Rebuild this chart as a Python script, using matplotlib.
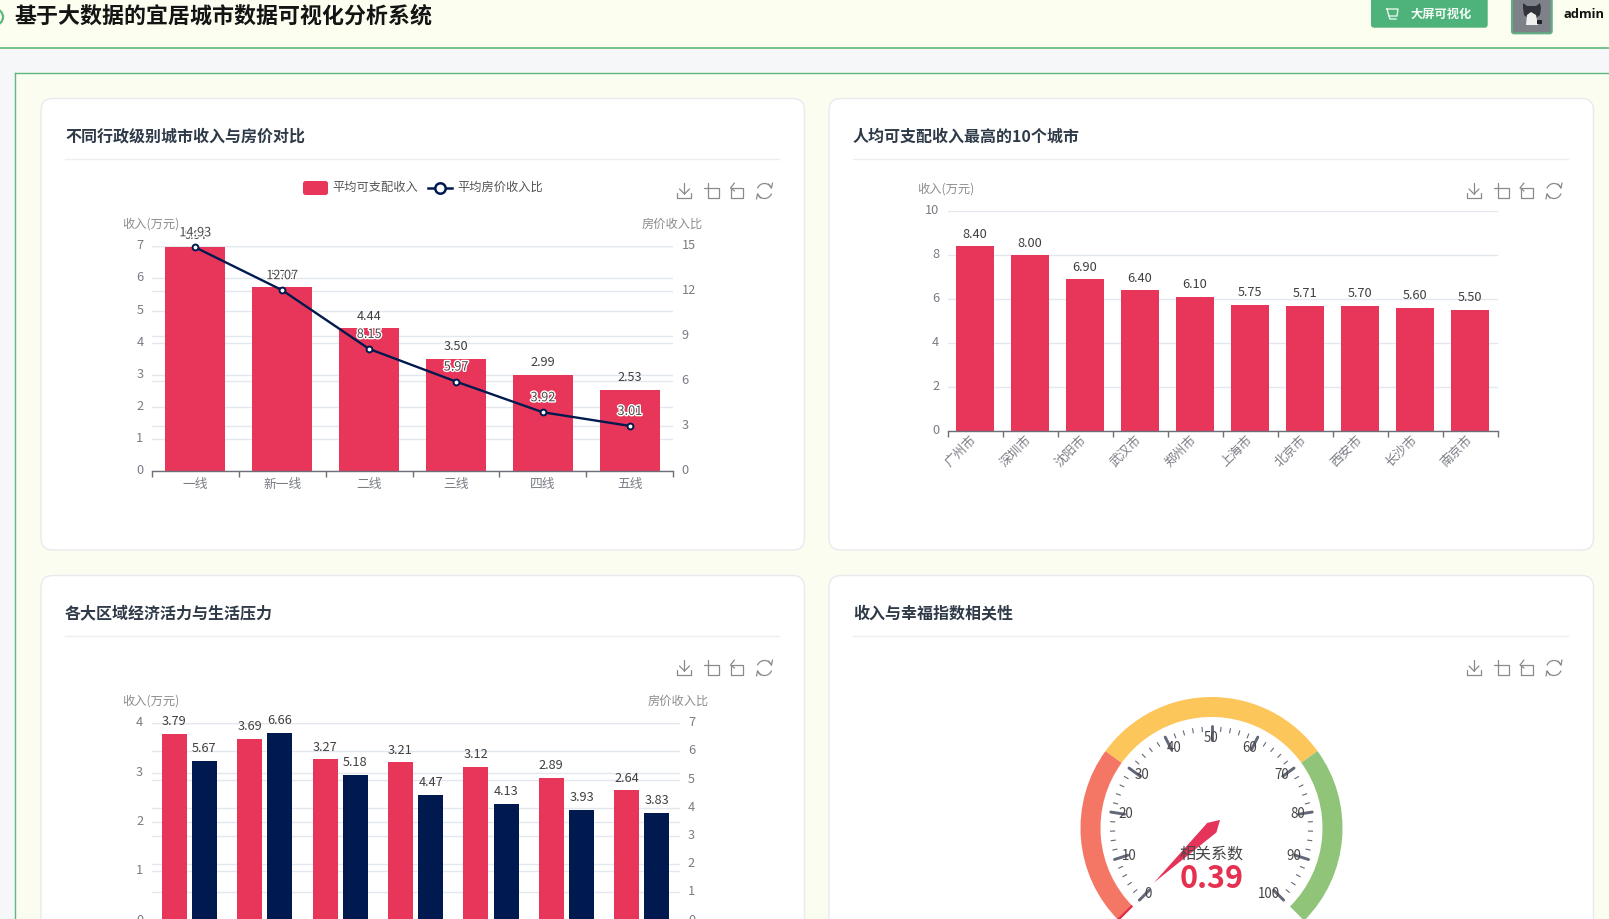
import numpy as np
import matplotlib
matplotlib.use("Agg")
import matplotlib.pyplot as plt
import matplotlib.patheffects as pe
from matplotlib.patches import FancyBboxPatch, Rectangle, Wedge, Polygon, Arc, Circle
from matplotlib.transforms import ScaledTranslation

plt.rcParams['font.family'] = ['Noto Sans CJK SC', 'DejaVu Sans']

# ---- data ----
page_title = "基于大数据的宜居城市数据可视化分析系统"
card_titles = ["不同行政级别城市收入与房价对比", "人均可支配收入最高的10个城市",
               "各大区域经济活力与生活压力", "收入与幸福指数相关性"]
tier_names = ["一线", "新一线", "二线", "三线", "四线", "五线"]
tier_income = [6.97, 5.72, 4.44, 3.50, 2.99, 2.53]
tier_ratio = [14.93, 12.07, 8.15, 5.97, 3.92, 3.01]
city_names = ["广州市", "深圳市", "沈阳市", "武汉市", "郑州市", "上海市", "北京市", "西安市", "长沙市", "南京市"]
city_income = [8.40, 8.00, 6.90, 6.40, 6.10, 5.75, 5.71, 5.70, 5.60, 5.50]
region_income = [3.79, 3.69, 3.27, 3.21, 3.12, 2.89, 2.64]
region_ratio = [5.67, 6.66, 5.18, 4.47, 4.13, 3.93, 3.83]
gauge_value = 0.39
gauge_stops = [0.0, 0.3, 0.7, 1.0]
gauge_labels = [0, 10, 20, 30, 40, 50, 60, 70, 80, 90, 100]

# ---- style ----
W, H = 1609, 919
RED = '#E8365A'
NAVY = '#001A50'
GREEN = '#5FB87C'
GRID = '#E3E7EE'
AXC = '#6E7079'
TICKC = '#7A7C84'
LAB = '#3F3F3F'
FS = 9.2
FS_NAME = 8.8
PX = 0.72

fig = plt.figure(figsize=(W / 100, H / 100), dpi=100, facecolor='#FBFDF1')
bg = fig.add_axes([0, 0, 1, 1], zorder=0)
bg.set_xlim(0, W)
bg.set_ylim(H, 0)
bg.axis('off')


def rect(x0, y0, x1, y1, c, **k):
    bg.add_patch(Rectangle((x0, y0), x1 - x0, y1 - y0, fc=c, ec='none', **k))


def shift(label, dx_px, dy_px):
    label.set_transform(label.get_transform() + ScaledTranslation(dx_px / 100, dy_px / 100, fig.dpi_scale_trans))


# page frame
rect(0, 0, W, 48, '#FCFEEF')
rect(0, 48, W, 73, '#F5F7F8')
rect(0, 48, 15, H, '#F5F7F8')
bg.plot([0, W], [48, 48], color=GREEN, lw=1.2)
bg.plot([15.5, W], [73, 73], color=GREEN, lw=1.0)
bg.plot([15.5, 15.5], [73, H], color=GREEN, lw=1.0)
bg.add_patch(Circle((-5, 17), 8, fc='none', ec=GREEN, lw=1.6))
bg.text(14.5, 16.5, page_title, fontsize=15.8, fontweight='bold', color='#141414', va='center', ha='left')

# header button
bg.add_patch(FancyBboxPatch((1371, -8), 116.7, 35.7, boxstyle='round,pad=0,rounding_size=3', fc='#4DB37A', ec='none'))
bg.text(1441.7, 14, "大屏可视化", fontsize=8.8, fontweight='bold', color='#F4FBF6', va='center', ha='center')
bg.plot([1387, 1398, 1397, 1389, 1387], [9, 9, 16, 16, 9], color='#E6F5EC', lw=1)
bg.plot([1389, 1390, 1396], [16, 19, 19], color='#E6F5EC', lw=1)

# avatar
bg.add_patch(FancyBboxPatch((1512, -6), 39.7, 39.3, boxstyle='round,pad=0,rounding_size=2', fc='#7F8189', ec='#5FAE84', lw=1.5))
bg.add_patch(Polygon([(1523, 8), (1523, 3), (1527, 6), (1536, 6), (1540, 3), (1541, 8), (1540, 15), (1536, 18),
                      (1528, 18), (1524, 15)], fc='#30343A', ec='none'))
bg.add_patch(Polygon([(1527, 15), (1531, 12), (1536, 15), (1538, 25), (1526, 25)], fc='#F0F0EE', ec='none'))
bg.add_patch(Rectangle((1537, 20), 5, 4, fc='#222428', ec='none'))
bg.text(1564, 14, "admin", fontsize=9.3, fontweight='bold', color='#111111', va='center', ha='left', family='Open Sans')

# cards
cards = [(41, 98.5, 804.5, 550), (829, 98.5, 1593.5, 550), (41, 575.5, 804.5, 960), (829, 575.5, 1593.5, 960)]
title_y = [136.5, 136.5, 613.5, 613.5]
div_y = [159.3, 159.3, 636, 636]
for (x0, y0, x1, y1), t, ty, dy in zip(cards, card_titles, title_y, div_y):
    bg.add_patch(FancyBboxPatch((x0, y0), x1 - x0, y1 - y0, boxstyle='round,pad=0,rounding_size=12',
                                fc='#FFFFFF', ec='#E8EAEE', lw=1))
    bg.text(x0 + 24, ty, t, fontsize=11.5, fontweight='bold', color='#2F3A48', va='center', ha='left')
    bg.plot([x0 + 24.5, x1 - 25.5], [dy, dy], color='#EBEEF3', lw=1)


def toolbox(cx0, cy):
    c = '#8A8A8A'
    kw = dict(color=c, lw=0.9, solid_capstyle='round')
    x = cx0
    bg.plot([x, x], [cy - 8, cy + 3], **kw)
    bg.plot([x - 5, x, x + 5], [cy - 2, cy + 3, cy - 2], **kw)
    bg.plot([x - 7, x - 7, x + 7, x + 7], [cy + 2, cy + 7, cy + 7, cy + 2], **kw)
    x = cx0 + 27.7
    bg.plot([x - 4, x - 4, x + 7, x + 7, x - 4], [cy - 3, cy + 7, cy + 7, cy - 3, cy - 3], **kw)
    bg.plot([x - 4, x - 4], [cy - 8, cy - 3], **kw)
    bg.plot([x - 8, x - 4], [cy - 3, cy - 3], **kw)
    x = cx0 + 53
    bg.plot([x - 6, x - 6, x + 6, x + 6, x - 6], [cy - 2, cy + 7, cy + 7, cy - 3, cy - 3], **kw)
    bg.plot([x - 3, x - 7, x - 3], [cy - 8, cy - 3, cy + 0], **kw)
    x = cx0 + 80
    bg.add_patch(Arc((x, cy), 15, 15, theta1=200, theta2=340, color=c, lw=0.9))
    bg.add_patch(Arc((x, cy), 15, 15, theta1=20, theta2=160, color=c, lw=0.9))
    bg.plot([x + 4, x + 7, x + 8], [cy - 7, cy - 3, cy - 8], **kw)
    bg.plot([x - 4, x - 7, x - 8], [cy + 7, cy + 3, cy + 8], **kw)


toolbox(684.5, 191)
toolbox(1474, 191)
toolbox(684.5, 668)
toolbox(1474, 668)

# legend of chart 1
bg.add_patch(FancyBboxPatch((303, 181), 25, 14, boxstyle='round,pad=0,rounding_size=2.5', fc=RED, ec='none'))
bg.text(332.5, 187.5, "平均可支配收入", fontsize=FS_NAME, color='#555555', va='center', ha='left')
bg.plot([428, 452.5], [188, 188], color=NAVY, lw=1.8)
bg.plot([440], [188], marker='o', ms=7.5, mfc='white', mec=NAVY, mew=1.8)
bg.text(457.6, 187.5, "平均房价收入比", fontsize=FS_NAME, color='#555555', va='center', ha='left')

# axis names
for x, y, s in [(151, 224, "收入(万元)"), (672, 224, "房价收入比"), (946, 189.5, "收入(万元)"),
                (151, 701, "收入(万元)"), (678, 701, "房价收入比")]:
    bg.text(x, y, s, fontsize=FS_NAME, color='#8C8C8C', va='center', ha='center')


def place(x0, x1, ytop, ybot, z):
    return fig.add_axes([x0 / W, 1 - ybot / H, (x1 - x0) / W, (ybot - ytop) / H], zorder=z, facecolor='none')


def clean(ax):
    for s in ax.spines.values():
        s.set_visible(False)
    ax.tick_params(axis='y', length=0, labelsize=FS, labelcolor=TICKC, pad=6)
    ax.set_axisbelow(True)


def lift_y_labels(ax):
    for lab in ax.get_yticklabels():
        shift(lab, 0, 2)


def cat_axis(ax, names, n, rotation=0):
    ax.set_xlim(-0.5, n - 0.5)
    ax.spines['bottom'].set_visible(True)
    ax.spines['bottom'].set_color(AXC)
    ax.spines['bottom'].set_linewidth(1)
    ax.set_xticks(np.arange(n + 1) - 0.5)
    ax.set_xticklabels([])
    ax.tick_params(axis='x', which='major', length=4, width=1, color=AXC)
    if names is not None:
        ax.set_xticks(np.arange(n), minor=True)
        if rotation:
            ax.set_xticklabels(names, minor=True, rotation=rotation, ha='right', va='top', rotation_mode='anchor')
        else:
            ax.set_xticklabels(names, minor=True)
        ax.tick_params(axis='x', which='minor', length=0, labelsize=FS, labelcolor=TICKC, pad=5)
        if rotation:
            for lab in ax.get_xticklabels(minor=True):
                shift(lab, -5, 5)


def bar_labels(ax, xs, vals, off=12.2):
    for x, v in zip(xs, vals):
        ax.annotate(f"{v:.2f}", (x, v), xytext=(0, off * PX), textcoords='offset points',
                    ha='center', va='center', fontsize=FS, color=LAB, annotation_clip=False)


def dual_axes(x0, x1, ytop, ybot, lmax, rmax, rstep, n, names):
    g = place(x0, x1, ytop, ybot, 1)
    clean(g)
    g.set_xlim(-0.5, n - 0.5)
    g.set_ylim(0, rmax)
    g.set_yticks(np.arange(0, rmax + 0.01, rstep))
    g.grid(axis='y', color=GRID, lw=1)
    g.set_yticklabels([])
    g.set_xticks([])
    a = place(x0, x1, ytop, ybot, 2)
    clean(a)
    a.set_ylim(0, lmax)
    a.set_yticks(np.arange(0, lmax + 0.01, 1))
    a.grid(axis='y', color=GRID, lw=1)
    cat_axis(a, names, n)
    r = place(x0, x1, ytop, ybot, 3)
    clean(r)
    r.set_xlim(-0.5, n - 0.5)
    r.set_ylim(0, rmax)
    r.set_xticks([])
    r.yaxis.tick_right()
    r.set_yticks(np.arange(0, rmax + 0.01, rstep))
    lift_y_labels(a)
    lift_y_labels(r)
    return a, r


# chart 1
a1, r1 = dual_axes(151.8, 673.3, 246.3, 471, 7, 15, 3, len(tier_names), tier_names)
x1 = np.arange(len(tier_names))
a1.bar(x1, tier_income, width=60 / 87.6, color=RED)
bar_labels(a1, x1, tier_income)
r1.plot(x1, tier_ratio, color=NAVY, lw=1.7, marker='o', ms=4.2, mfc='white', mec=NAVY, mew=1.4, clip_on=False)
for x, v in zip(x1, tier_ratio):
    r1.annotate(f"{v:.2f}", (x, v), xytext=(0, 14.5 * PX), textcoords='offset points', ha='center', va='center',
                fontsize=FS, color='#4A4A4A', annotation_clip=False,
                path_effects=[pe.withStroke(linewidth=2, foreground='white')])

# chart 2
a2 = place(947.5, 1497.7, 211.3, 431, 2)
clean(a2)
a2.set_ylim(0, 10)
a2.set_yticks(np.arange(0, 11, 2))
a2.grid(axis='y', color=GRID, lw=1)
cat_axis(a2, city_names, len(city_names), rotation=45)
lift_y_labels(a2)
x2 = np.arange(len(city_names))
a2.bar(x2, city_income, width=38 / 55, color=RED)
bar_labels(a2, x2, city_income)

# chart 3
a3, r3 = dual_axes(151.5, 679.6, 723.3, 920.5, 4, 7, 1, len(region_income), None)
x3 = np.arange(len(region_income))
a3.bar(x3 - 0.2, region_income, width=25 / 75.4, color=RED)
bar_labels(a3, x3 - 0.2, region_income)
r3.bar(x3 + 0.2, region_ratio, width=25 / 75.4, color=NAVY)
bar_labels(r3, x3 + 0.2, region_ratio)

# chart 4: gauge
CX, CY = 1211.5, 828
g = fig.add_axes([0, 0, 1, 1], zorder=4, facecolor='none')
g.set_xlim(-CX, W - CX)
g.set_ylim(-(H - CY), CY)
g.axis('off')


def ang(v):
    return 225 - 270 * v


for lo, hi, c in zip(gauge_stops[:-1], gauge_stops[1:], ['#F47766', '#FDC65A', '#90C479']):
    g.add_patch(Wedge((0, 0), 131, ang(hi), ang(lo), width=20, fc=c, ec='none'))
g.add_patch(Wedge((0, 0), 131, ang(0.004), ang(0), width=20, fc='#E0304A', ec='none'))

TC = '#63677A'
for i in range(51):
    t = np.deg2rad(ang(i / 50))
    c_, s_ = np.cos(t), np.sin(t)
    if i % 5 == 0:
        g.plot([88 * c_, 102 * c_], [88 * s_, 102 * s_], color=TC, lw=2.1, solid_capstyle='round')
    else:
        g.plot([97 * c_, 101 * c_], [97 * s_, 101 * s_], color=TC, lw=0.8)
for lab in gauge_labels:
    t = np.deg2rad(ang(lab / 100))
    if lab == 100:
        dx, dy = -6, -2
    elif lab == 0:
        dx, dy = 0, -2
    elif lab < 50:
        dx, dy = 3, 0
    elif lab > 50:
        dx, dy = -3, 0
    else:
        dx, dy = 0, 0
    g.text(90 * np.cos(t) + dx, 90 * np.sin(t) + dy, str(lab), fontsize=9.6, color='#464646', ha='center', va='center')

# pointer: a fixed shape, turned to the angle
needle_angle = np.deg2rad(43.5)
u = np.array([np.cos(needle_angle), np.sin(needle_angle)])
n = np.array([-u[1], u[0]])
needle = [11.7 * u, 0.5 * u + 6.6 * n, -79.4 * u, 0.5 * u - 6.6 * n]
g.add_patch(Polygon(needle, closed=True, fc='#E6335A', ec='none'))
g.text(0, CY - 853.7, "相关系数", fontsize=11.5, color='#464646', ha='center', va='center')
g.text(0, CY - 879, f"{gauge_value:.2f}", fontsize=22, fontweight='bold', color='#E6304F', ha='center', va='center')

fig.savefig('out.png', dpi=100)
